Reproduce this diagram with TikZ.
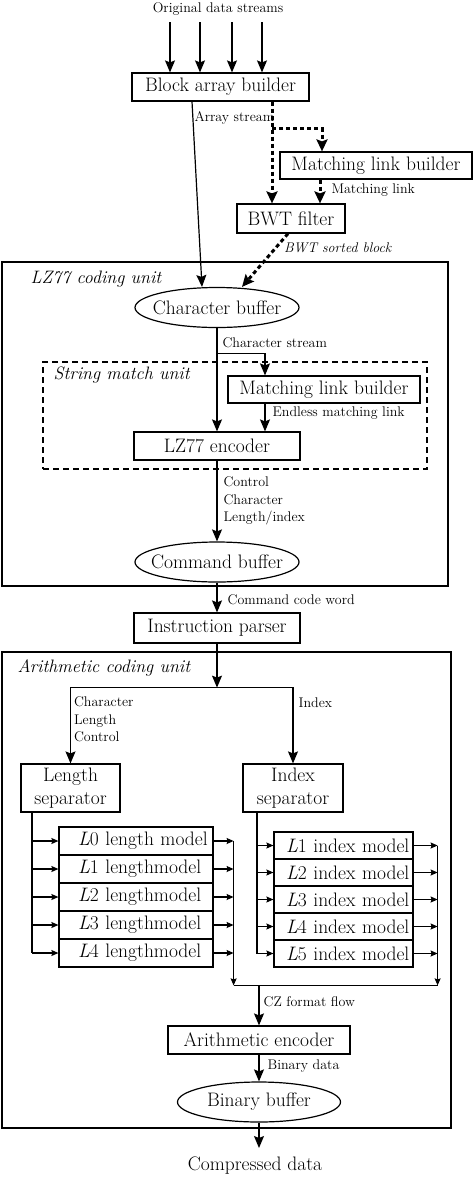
\documentclass[tikz,border=0pt]{standalone}
\usepackage{tikz}
\usetikzlibrary{arrows.meta, shapes.geometric}

\begin{document}
\begin{tikzpicture} [x = 1pt, y = -1pt, line width = 1.2pt,
  big/.style = {font = \fontsize{19.5}{23}\selectfont},
  lbl/.style = {font = \fontsize{14}{17.5}\selectfont, inner sep = 1pt},
  unit/.style = {font = \fontsize{18}{20}\selectfont\itshape, inner sep = 0pt, anchor = west},
  box/.style = {draw, rectangle, big, inner sep = 0pt},
  buf/.style = {draw, ellipse, big, inner xsep = -12pt, inner ysep = 0pt, minimum width = 164pt, minimum height = 40pt},
  lmod/.style = {box, minimum height = 28pt, text width = 148pt, inner xsep = 3pt, align = left},
  imod/.style = {box, minimum height = 27pt, text width = 133pt, inner xsep = 3pt, align = left},
  arr/.style = {-{Stealth[length = 12pt, width = 10pt, inset = 2pt]}},
  sarr/.style = {-{Stealth[length = 7pt, width = 6pt, inset = 1pt]}},
  dsh/.style = {line width = 3pt, dash pattern = on 4pt off 3pt, -{Stealth[length = 12pt, width = 11pt, inset = 2pt]}}]
\useasboundingbox (0,0) rectangle (474,1179);

\node[lbl, anchor = base, inner ysep = 7pt] (src) at (218,12) {Original data streams};
\node[box, minimum width = 177pt, minimum height = 28pt] (bab) at (220.5,87) {Block array builder};
\node[box, minimum width = 192pt, minimum height = 27pt] (mlb) at (376,165.5) {Matching link builder};
\node[box, minimum width = 108pt, minimum height = 29pt] (bwt) at (291,218.5) {BWT filter};

\node[draw, minimum width = 446pt, minimum height = 324pt] (lzu) at (225,424) {};
\node[unit] (lzt) at (30,279) {LZ77 coding unit};
\node[buf] (cbuf) at (217,307.5) {Character buffer};
\node[draw, dash pattern = on 6pt off 4pt, minimum width = 384pt, minimum height = 107pt] (smu) at (235,415.5) {};
\node[unit] (smt) at (53,375) {String match unit};
\node[box, minimum width = 192pt, minimum height = 27pt] (mlb2) at (324,389.5) {Matching link builder};
\node[box, minimum width = 166pt, minimum height = 28pt] (enc) at (217,446) {LZ77 encoder};
\node[buf] (cmd) at (217,562) {Command buffer};
\node[box, minimum width = 166pt, minimum height = 30pt] (ip) at (217,628) {Instruction parser};

\node[draw, minimum width = 449pt, minimum height = 476pt] (acu) at (226.5,890) {};
\node[unit] (act) at (17,668) {Arithmetic coding unit};
\node[box, align = center, minimum width = 99pt, minimum height = 48pt] (lsep) at (70.5,788) {Length\\separator};
\node[box, align = center, minimum width = 100pt, minimum height = 48pt] (isep) at (293,788) {Index\\separator};
\foreach \k/\s in {0/length model, 1/lengthmodel, 2/lengthmodel, 3/lengthmodel, 4/lengthmodel}
  \node[lmod] (lm\k) at (136,841+28*\k) {\hspace*{16pt}\textit{L}\k\ \s};
\foreach \k in {1,...,5}
  \node[imod] (im\k) at (343.5,845.5+27*\k-27) {\hspace*{9pt}\textit{L}\k\ index model};
\node[box, minimum width = 182pt, minimum height = 28pt] (aenc) at (259,1040) {Arithmetic encoder};
\node[buf, minimum width = 163pt] (bbuf) at (259,1102) {Binary buffer};
\node[big, anchor = north, inner ysep = 8pt] (out) at (255,1148) {Compressed data};

\foreach \x in {170,200,232,262} \draw [arr](src.south -| \x,0) -- (bab.north -| \x,0);
\draw [arr]([xshift = -28.5pt]bab.south) -- ([xshift = -15pt]cbuf.north) node[lbl, right, pos = .09]{Array stream};
\draw [dsh]([xshift = 51.5pt]bab.south) -- ([xshift = -19pt]bwt.north);
\draw [dsh]([xshift = 51.5pt]bab.south) ++(0,27) -| ([xshift = -54pt]mlb.north);
\draw [dsh]([xshift = -56pt]mlb.south) -- ([xshift = 29pt]bwt.north) node[lbl, right = 9pt, pos = .45]{Matching link};
\draw [dsh]([xshift = -3pt]bwt.south) -- ([xshift = 25pt]cbuf.north) node[lbl, right = 6pt, pos = .27]{\itshape BWT sorted block};

\coordinate (ml) at ([xshift = -59pt]mlb2.south);
\draw [arr](cbuf.south) -- (cbuf.south |- enc.north) node[lbl, right = 4pt, pos = .14]{Character stream};
\draw [arr](cbuf.south) ++(0,25) -| (ml |- mlb2.north);
\draw [arr](ml) -- (ml |- enc.north) node[lbl, right = 6pt, pos = .34]{Endless matching link};
\draw [arr](enc.south) -- (cmd.north) node[lbl, align = left, right = 5pt, pos = .5]{Control\\Character\\Length/index};
\draw [arr](cmd.south) -- (ip.north) node[lbl, right = 9pt, pos = .58]{Command code word};

\draw [arr](ip.south) -- ++(0,44) coordinate (fork);
\draw [arr](fork) -| (lsep.north) node[lbl, align = left, right = 2pt, pos = .71]{Character\\Length\\Control};
\draw [arr](fork) -| (isep.north) node[lbl, right = 4pt, pos = .6]{Index};

\coordinate (lb) at ([xshift = -38.5pt]lsep.south);
\coordinate (lo) at ([xshift = 20pt]lm0.east);
\draw (lb) -- (lb |- lm4.west);
\foreach \k in {0,...,4} {
  \draw [sarr](lb |- lm\k.west) -- (lm\k.west);
  \draw [sarr](lm\k.east) -- (lo |- lm\k.east);
}
\coordinate (ib) at ([xshift = -36pt]isep.south);
\coordinate (io) at ([xshift = 24pt]im1.east);
\draw (ib) -- (ib |- im5.west);
\foreach \k in {1,...,5} {
  \draw [sarr](ib |- im\k.west) -- (im\k.west);
  \draw [sarr](im\k.east) -- (io |- im\k.east);
}
\path (aenc.north) ++(0,-40) coordinate (mrg);
\draw [sarr](lo) -- (lo |- mrg);
\draw [sarr](io) -- (io |- mrg);
\draw (lo |- mrg) -- (io |- mrg);
\draw [arr](mrg) -- (aenc.north) node[lbl, right = 3pt, pos = .4]{CZ format flow};
\draw [arr](aenc.south) -- (bbuf.north) node[lbl, right = 7pt, pos = .43]{Binary data};
\draw [arr](bbuf.south) -- (bbuf.south |- out.north);
\end{tikzpicture}
\end{document}
